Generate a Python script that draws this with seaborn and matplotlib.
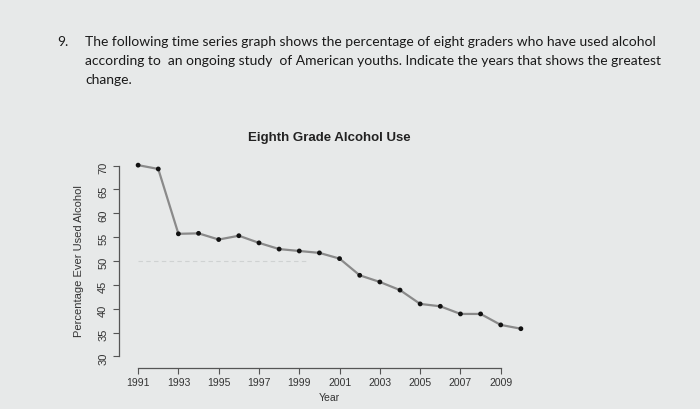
import matplotlib
matplotlib.use("Agg")
import matplotlib.pyplot as plt
import seaborn as sns
import pandas as pd

years = list(range(1991, 2011))
percent_used = [70.1, 69.3, 55.7, 55.8, 54.5, 55.3, 53.8, 52.5, 52.1, 51.7,
                50.5, 47.0, 45.6, 43.9, 41.0, 40.5, 38.9, 38.9, 36.6, 35.8]
x_ticks = list(range(1991, 2010, 2))
y_ticks = list(range(30, 71, 5))

question_lines = [
    "The following time series graph shows the percentage of eight graders who have used alcohol",
    "according to  an ongoing study  of American youths. Indicate the years that shows the greatest",
    "change.",
]

df = pd.DataFrame({"Year": years, "Percent": percent_used})

sns.set_theme(style="white")
plt.rcParams["font.family"] = ["Liberation Sans", "DejaVu Sans"]
bg = "#e7e9e9"
fig = plt.figure(figsize=(7.0, 4.09), dpi=100, facecolor=bg)
ax = fig.add_axes([122/700, 1-364/409, (537-122)/700, (364-158)/409])
ax.set_facecolor(bg)

ax.plot([1991, 1999.5], [50, 50], ls=(0, (4, 3)), color="#cfd2d2", lw=0.8, zorder=1)
sns.lineplot(data=df, x="Year", y="Percent", ax=ax, color="#8a8a8a", lw=1.6, zorder=2)
sns.scatterplot(data=df, x="Year", y="Percent", ax=ax, color="#111111", s=12,
                edgecolor="none", zorder=3)

ax.set_xlim(1990.2, 2010.8)
ax.set_ylim(28.4, 71.6)
ax.tick_params(axis="both", length=4, width=0.8, color="#555555", direction="out", pad=3,
               left=True, bottom=True, labelcolor="#333333")
ax.tick_params(axis="x", labelsize=7.5)
ax.tick_params(axis="y", labelsize=8, labelrotation=90, pad=4)
ax.set_xticks(x_ticks)
ax.set_yticks(y_ticks)
ax.set_xticklabels([str(t) for t in x_ticks])
ax.set_yticklabels([str(t) for t in y_ticks], va="center")
for s in ["top", "right"]:
    ax.spines[s].set_visible(False)
ax.spines["left"].set_bounds(30, 70)
ax.spines["bottom"].set_bounds(1991, 2009)
for s in ["left", "bottom"]:
    ax.spines[s].set_color("#555555")
    ax.spines[s].set_linewidth(0.9)
ax.spines["bottom"].set_position(("outward", 3))
ax.spines["left"].set_position(("outward", 2))
ax.set_xlabel("Year", fontsize=7.5, color="#333333", labelpad=4)
ax.set_ylabel("Percentage Ever Used Alcohol", fontsize=8, color="#333333", labelpad=10)
ax.set_title("Eighth Grade Alcohol Use", fontsize=9.5, fontweight="bold", color="#222222", pad=12)

fig.text(57/700, 1-42/409, "9.", fontsize=10, family=["Lato", "DejaVu Sans"], color="#1a1a1a", va="center")
for i, line in enumerate(question_lines):
    fig.text(85/700, 1-(42 + i*19)/409, line, fontsize=10, family=["Lato", "DejaVu Sans"],
             color="#1a1a1a", va="center")

fig.savefig("out.png", dpi=100, facecolor=bg)
